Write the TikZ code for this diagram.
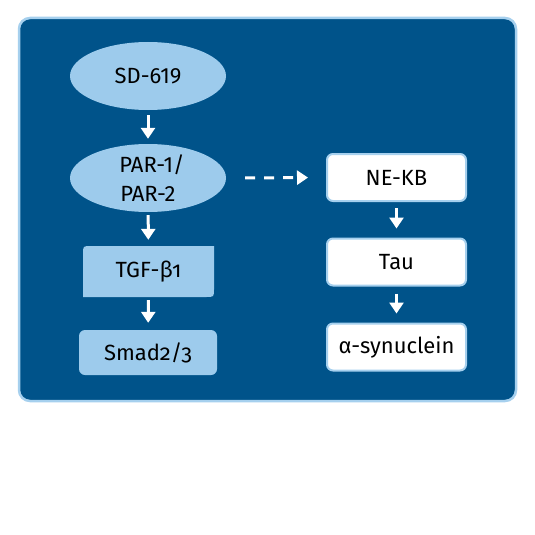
\documentclass[tikz,border=0pt]{standalone}
\usepackage{fontspec}
\setmainfont{Fira Sans}
\newfontfamily\osf[Numbers=OldStyle]{Fira Sans}
\usetikzlibrary{shapes.geometric,arrows.meta}
\definecolor{darkbg}{HTML}{00538A}
\definecolor{lightb}{HTML}{9DCBEC}
\definecolor{bord}{HTML}{A6D0EE}
\tikzset{
  x=1pt,y=-1pt,
  lbl/.style={font=\fontsize{22}{25}\selectfont, text=black, align=center, inner sep=0pt},
  ell/.style={lbl, ellipse, fill=lightb, minimum width=156pt, minimum height=68pt},
  whitebox/.style={lbl, rectangle, rounded corners=6pt, fill=white, draw=bord, line width=2pt, minimum width=139pt, minimum height=47pt},
  arr/.style={draw=white, line width=3pt, -{Triangle[length=11pt,width=14pt]}},
}
\begin{document}
\begin{tikzpicture}
\useasboundingbox (0,0) rectangle (535,535);
\fill[white] (0,0) rectangle (535,535);
\draw[fill=darkbg, draw=bord, line width=2.5pt, rounded corners=11pt] (19,18) rectangle (516,401);

\node[ell] (sd) at (148,76) {SD-619};
\node[ell] (par) at (148,178) {\hspace*{8pt}PAR-1/\\[4pt]PAR-2};

\fill[lightb] (83,297) -- (83,254) .. controls (83,246) .. (91,246) -- (214,246) -- (214,289) .. controls (214,297) .. (206,297) -- cycle;
\node[lbl, minimum width=131pt, minimum height=51pt] (tgf) at (148.5,271.5) {\osf TGF-β1};

\node[lbl, rectangle, rounded corners=6pt, fill=lightb, minimum width=138pt, minimum height=45pt] (smad) at (148,352.5) {\osf Smad2/3};

\node[whitebox] (nf) at (396.5,177.5) {NE-KB};
\node[whitebox] (tau) at (396.5,262) {Tau};
\node[whitebox] (syn) at (396.5,347) {α-synuclein};

\draw[arr, shorten <=5pt, shorten >=5pt] (sd) -- (par);
\draw[arr, shorten <=3pt, shorten >=6pt] (par) -- (tgf);
\draw[arr, shorten <=3pt, shorten >=7pt] (tgf) -- (smad);
\draw[arr, shorten <=6pt, shorten >=9pt] (nf) -- (tau);
\draw[arr, shorten <=7pt, shorten >=9pt] (tau) -- (syn);
\draw[arr, dash pattern=on 10pt off 9pt, shorten <=19pt, shorten >=18pt] (par.east) -- (nf.west);
\end{tikzpicture}
\end{document}
